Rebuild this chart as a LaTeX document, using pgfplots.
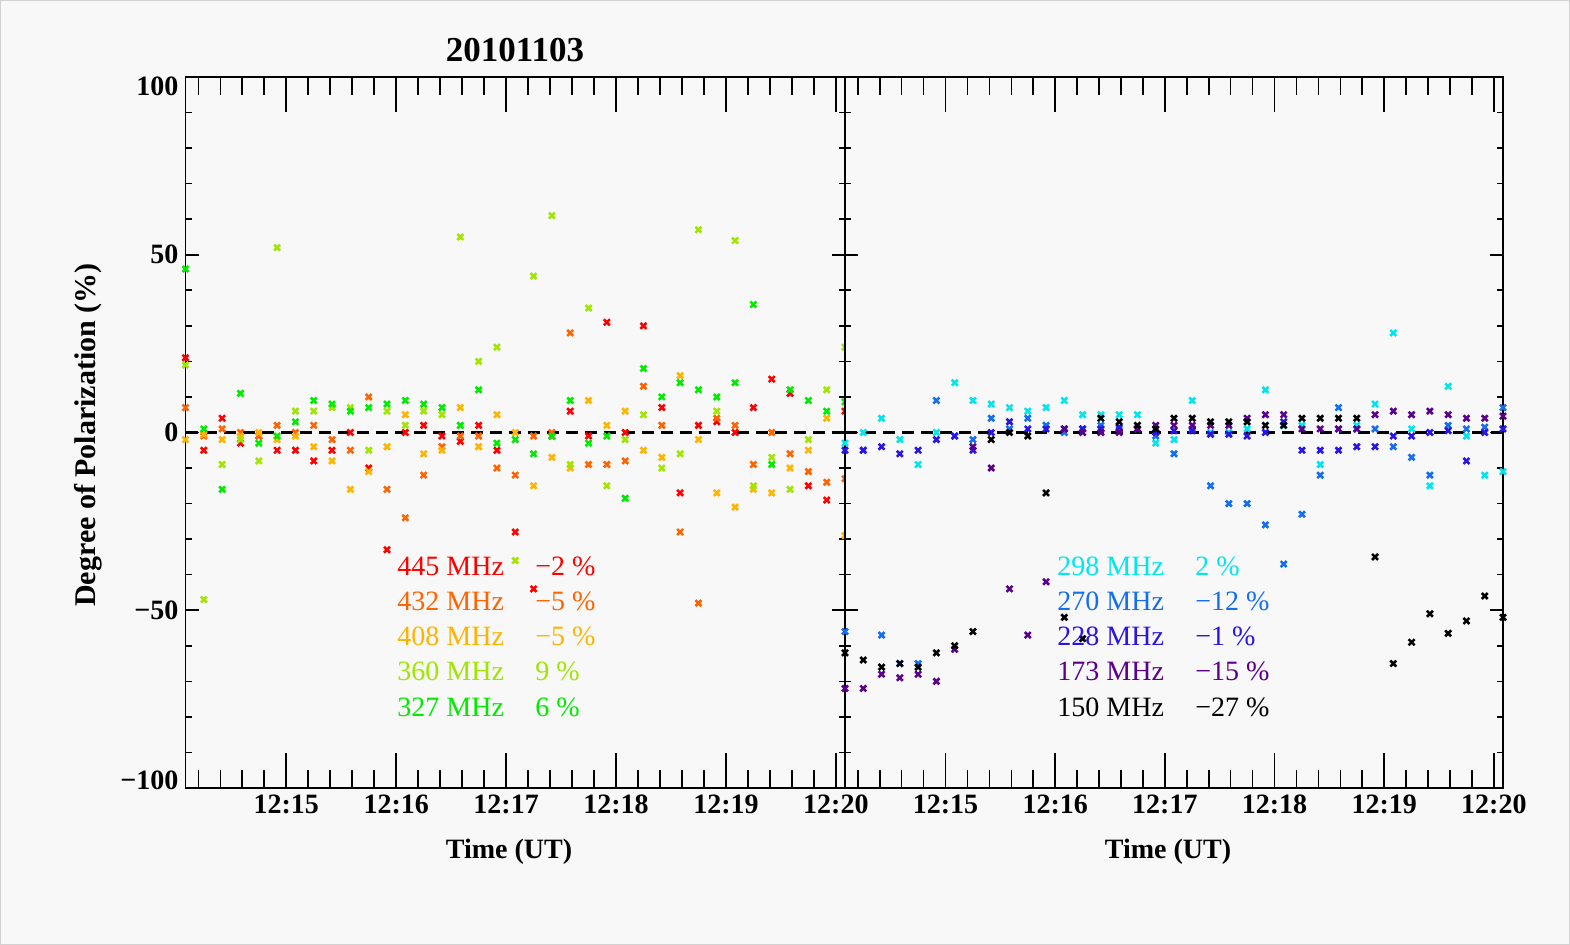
\documentclass[border=0pt]{standalone}
\usepackage{pgfplots}
\pgfplotsset{compat=1.18}
\usepackage{pgfplotstable}
\usepackage{fontspec}
\setmainfont{Liberation Serif}
\definecolor{bg}{RGB}{248,248,248}
\definecolor{cR}{RGB}{255,0,0}
\definecolor{cO}{RGB}{255,100,0}
\definecolor{cY}{RGB}{255,180,0}
\definecolor{cYG}{RGB}{160,230,0}
\definecolor{cG}{RGB}{0,235,0}
\definecolor{cC}{RGB}{0,230,240}
\definecolor{cA}{RGB}{20,110,240}
\definecolor{cB}{RGB}{40,20,230}
\definecolor{cP}{RGB}{90,0,140}
\definecolor{cK}{RGB}{0,0,0}

\pgfplotstableread{
t r o y yg g
5 21 7 -2 19 46
15 -5 -1 -0.5 -47 1
25 4 1 -2 -9 -16
35 -3 0 -1 -2 11
45 -1 -1 0 -8 -3
55 -5 2 -2 52 -1
65 -5 0 -1 6 3
75 -8 2 -4 6 9
85 -5 -2 -8 7 8
95 0 -5 -16 7 6
105 -10 10 -11 -5 7
115 -33 -16 -4 6 8
125 0 -24 5 2 9
135 2 -12 -6 6 8
145 -1 -4 -5 5 7
155 -2.5 -1 7 55 2
165 2 -1 -4 20 12
175 -5 -10 5 24 -3
185 -28 -12 0 -36 -2
195 -44 -1 -15 44 -6
205 -1 0 -7 61 -1
215 6 28 -10 -9 9
225 -1 -9 9 35 -3
235 31 -9 2 -15 -1
245 0 -8 6 -2 -18.5
255 30 13 -5 5 18
265 7 2 -7 -10 10
275 -17 -28 16 -6 14
285 2 -48 -2 57 12
295 3 4 -17 6 10
305 0 2 -21 54 14
315 7 -9 -16 -15 36
325 15 0 -17 -7 -9
335 11 -6 -10 -16 12
345 -15 -11 -5 -2 9
355 -19 -14 4 12 6
365 6 -13 -29 24 8.6
}\lefttab

\pgfplotstableread{
t c a b p k
5 -3 -56 -5 -72 -62
15 0 -5 -5 -72 -64
25 4 -57 -4 -68 -66
35 -2 -65 -6 -69 -65
45 -9 -65 -5 -68 -66
55 0 9 -2 -70 -62
65 14 -1 -1 -61 -60
75 9 -2 -5 -4 -56
85 8 4 0 -10 -2
95 7 1 3 -44 0
105 6 4 1 -57 -1
115 7 2 1 -42 -17
125 9 0 1 1 -52
135 5 1 1 0 -58
145 5 2 1 0 4
155 5 1 1.5 0 3
165 5 1 1 1 2
175 -3 -1 0 2 1
185 -2 -6 0.5 2 4
195 9 1 0.5 2 4
205 0 -15 -0.5 2 3
215 0 -20 -0.5 2 3
225 1 -20 -1 4 3
235 12 -26 0 5 2
245 2 -37 3 5 2
255 2 -23 -5 1 4
265 -9 -12 -5 1 4
275 1 7 -5 1 4
285 2 1 -4 1 4
295 8 1 -4 5 -35
305 28 -4 -1 6 -65
315 1 -7 -1 5 -59
325 -15 -12 0 6 -51
335 13 2 0.5 5 -56.5
345 -1 1 -8 4 -53
355 -12 1.5 0 4 -46
365 -11 7 1 4.6 -52
}\righttab

\newcommand{\tickf}{\fontsize{14}{14}\selectfont\bfseries}
\newcommand{\legf}{\fontsize{14}{14}\selectfont}

\pgfplotsset{
  pol/.style={
    scale only axis, height=355.5pt,
    xmin=5, xmax=365, ymin=-100, ymax=100,
    xtick={60,120,180,240,300,360},
    xticklabels={12:15,12:16,12:17,12:18,12:19,12:20},
    minor xtick={12,24,...,360},
    ytick={-100,-50,0,50,100},
    minor ytick={-90,-80,...,90},
    tick align=inside,
    axis line style={line width=0.9pt},
    xtick style={black, line width=0.8pt, /pgfplots/major tick length=17.5pt, /pgfplots/minor tick length=9pt},
    ytick style={black, line width=0.8pt, /pgfplots/major tick length=6.5pt, /pgfplots/minor tick length=3pt},
    ticklabel style={font=\tickf},
    axis background/.style={fill=bg},
    clip=true,
  },
  pts/.style={only marks, mark=x, mark size=2.1pt, mark options={line width=1.3pt}},
}

\begin{document}
\begin{tikzpicture}
\fill[bg] (0,0) rectangle (785pt,472.5pt);
\draw[gray!35, line width=0.6pt] (0.3pt,0.3pt) rectangle (784.7pt,472.2pt);
\useasboundingbox (0,0) rectangle (785pt,472.5pt);

\begin{axis}[pol, at={(92.75pt,78.5pt)}, anchor=south west, width=329.75pt,
  yticklabels={\raisebox{4pt}[\height][\depth]{−100},−50,0,50,\raisebox{-4.5pt}[\height][\depth]{100}}]
\addplot[pts, cR] table[x=t,y=r]{\lefttab};
\addplot[pts, cO] table[x=t,y=o]{\lefttab};
\addplot[pts, cY] table[x=t,y=y]{\lefttab};
\addplot[pts, cYG] table[x=t,y=yg]{\lefttab};
\addplot[pts, cG] table[x=t,y=g]{\lefttab};
\addplot[black, line width=1.6pt, dash pattern=on 6pt off 3.5pt] coordinates {(5,0) (365,0)};
\end{axis}

\begin{axis}[pol, at={(422.5pt,78.5pt)}, anchor=south west, width=329pt,
  yticklabels={}]
\addplot[pts, cC] table[x=t,y=c]{\righttab};
\addplot[pts, cA] table[x=t,y=a]{\righttab};
\addplot[pts, cB] table[x=t,y=b]{\righttab};
\addplot[pts, cP] table[x=t,y=p]{\righttab};
\addplot[pts, cK] table[x=t,y=k]{\righttab};
\addplot[black, line width=1.6pt, dash pattern=on 6pt off 3.5pt] coordinates {(5,0) (365,0)};
\end{axis}

% title and axis labels
\node[font=\fontsize{17.5}{17.5}\selectfont\bfseries] at (257.5pt,447.5pt) {20101103};
\node[font=\fontsize{15}{15}\selectfont\bfseries, rotate=90] at (44pt,255pt) {Degree of Polarization (\%)};
\node[font=\tickf] at (254.5pt,46.5pt) {Time (UT)};
\node[font=\tickf] at (584pt,46.5pt) {Time (UT)};

% left legend
\node[anchor=west, text=cR, font=\legf, inner sep=0pt] at (198.5pt,189.5pt) {445 MHz};
\node[anchor=west, text=cO, font=\legf, inner sep=0pt] at (198.5pt,172pt) {432 MHz};
\node[anchor=west, text=cY, font=\legf, inner sep=0pt] at (198.5pt,154.5pt) {408 MHz};
\node[anchor=west, text=cYG, font=\legf, inner sep=0pt] at (198.5pt,137pt) {360 MHz};
\node[anchor=west, text=cG, font=\legf, inner sep=0pt] at (198.5pt,119pt) {327 MHz};
\node[anchor=west, text=cR, font=\legf, inner sep=0pt] at (267.5pt,189.5pt) {−2 \%};
\node[anchor=west, text=cO, font=\legf, inner sep=0pt] at (267.5pt,172pt) {−5 \%};
\node[anchor=west, text=cY, font=\legf, inner sep=0pt] at (267.5pt,154.5pt) {−5 \%};
\node[anchor=west, text=cYG, font=\legf, inner sep=0pt] at (267.5pt,137pt) {9 \%};
\node[anchor=west, text=cG, font=\legf, inner sep=0pt] at (267.5pt,119pt) {6 \%};

% right legend
\node[anchor=west, text=cC, font=\legf, inner sep=0pt] at (528.5pt,189.5pt) {298 MHz};
\node[anchor=west, text=cA, font=\legf, inner sep=0pt] at (528.5pt,172pt) {270 MHz};
\node[anchor=west, text=cB, font=\legf, inner sep=0pt] at (528.5pt,154.5pt) {228 MHz};
\node[anchor=west, text=cP, font=\legf, inner sep=0pt] at (528.5pt,137pt) {173 MHz};
\node[anchor=west, text=cK, font=\legf, inner sep=0pt] at (528.5pt,119pt) {150 MHz};
\node[anchor=west, text=cC, font=\legf, inner sep=0pt] at (597.5pt,189.5pt) {2 \%};
\node[anchor=west, text=cA, font=\legf, inner sep=0pt] at (597.5pt,172pt) {−12 \%};
\node[anchor=west, text=cB, font=\legf, inner sep=0pt] at (597.5pt,154.5pt) {−1 \%};
\node[anchor=west, text=cP, font=\legf, inner sep=0pt] at (597.5pt,137pt) {−15 \%};
\node[anchor=west, text=cK, font=\legf, inner sep=0pt] at (597.5pt,119pt) {−27 \%};
\end{tikzpicture}
\end{document}
